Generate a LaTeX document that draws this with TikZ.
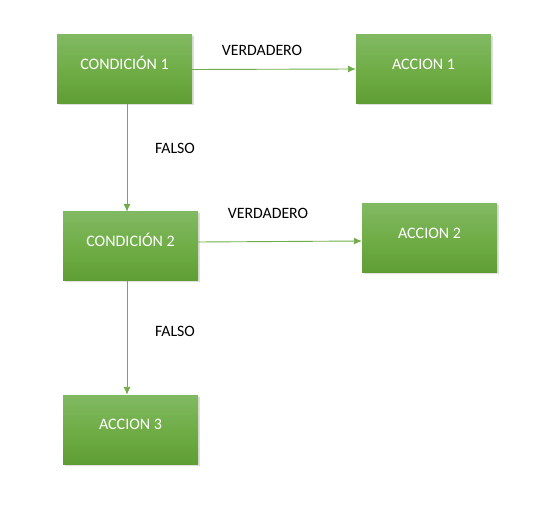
\documentclass[tikz,border=0pt]{standalone}
\usepackage{fontspec}
\setmainfont{Carlito}
\usetikzlibrary{arrows.meta,shadows}
\definecolor{verde}{RGB}{112,173,71}
\definecolor{verdeA}{RGB}{129,185,98}
\definecolor{verdeB}{RGB}{95,158,51}
\begin{document}
\begin{tikzpicture}[x=1pt,y=-1pt,lbl/.style={inner sep=1pt, font=\fontsize{15.8}{18}\selectfont}]
\tikzstyle{caja}=[rectangle, minimum width=135pt, minimum height=69pt, inner sep=0pt,
  top color=verdeA, bottom color=verdeB, middle color=verde, text=white,
  text height=11pt, text depth=11pt, font=\fontsize{16}{18}\selectfont,
  drop shadow={opacity=0.25, shadow xshift=1.5pt, shadow yshift=-1.5pt}]
\tikzstyle{flecha}=[draw=verde, line width=0.9pt, -{Latex[length=8pt,width=7pt]}]
\useasboundingbox[fill=white] (0,0) rectangle (551,510);
\node[caja] (c1) at (124.5,69.5){CONDICIÓN 1};
\node[caja] (a1) at (423.5,69.5){ACCION 1};
\node[caja] (c2) at (130.5,246.5){CONDICIÓN 2};
\node[caja] (a2) at (429.5,238.5){ACCION 2};
\node[caja] (a3) at (130.5,429.5){ACCION 3};
% labels on the arrows
\node[lbl] (v1) at (262,50){VERDADERO};
\node[lbl] (f1) at (175,148){FALSO};
\node[lbl] (v2) at (268,213){VERDADERO};
\node[lbl] (f2) at (175,331){FALSO};
\draw[flecha] (c1.east) -- ([yshift=0.5pt]a1.west);
\draw[flecha] ([xshift=2.5pt]c1.south) -- ([xshift=-3.5pt]c2.north);
\draw[flecha] ([yshift=4.5pt]c2.east) -- ([yshift=-2.5pt]a2.west);
\draw[flecha] ([xshift=-3.5pt]c2.south) -- ([xshift=-3.5pt]a3.north);
\end{tikzpicture}
\end{document}
